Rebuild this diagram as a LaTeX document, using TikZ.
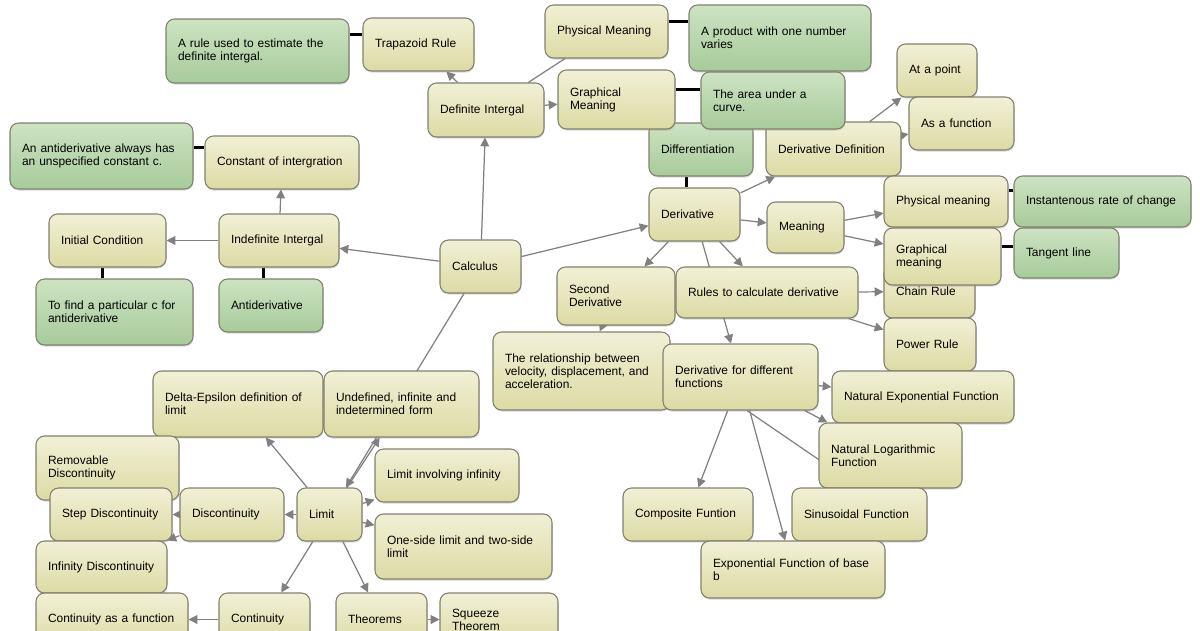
\documentclass[tikz,border=0pt]{standalone}
\usepackage{fontspec}
\setmainfont{Liberation Sans}
\usepackage{tikz}
\usetikzlibrary{arrows.meta, shadows}

\definecolor{topichi}{HTML}{F1F0D6}
\definecolor{topiclo}{HTML}{DCDBA4}
\definecolor{notehi}{HTML}{CDE3C2}
\definecolor{notelo}{HTML}{A7CB9A}
\definecolor{boxline}{HTML}{80806E}
\definecolor{connline}{HTML}{808080}

\pgfdeclarelayer{edges}
\pgfsetlayers{edges,main}

\newcommand{\boxfont}{\fontsize{6.8}{7.4}\selectfont\hyphenpenalty=10000\exhyphenpenalty=10000}

\tikzset{
    boxsize/.code 2 args={\pgfmathsetlengthmacro\boxtw{(#1-24)*0.02cm}%
        \tikzset{text width=\boxtw, minimum height=#2*0.02cm}},
    topic/.style={draw=boxline, line width=0.6pt, rounded corners=0.17cm,
        top color=topichi, bottom color=topiclo, inner xsep=0.24cm, inner ysep=0pt,
        drop shadow={shadow xshift=0.3pt, shadow yshift=-0.9pt, opacity=0.3},
        align=left, font=\boxfont, text=black},
    note/.style={topic, top color=notehi, bottom color=notelo},
    conn/.style={draw=connline, line width=0.7pt, -{Triangle[length=5pt,width=5pt]}},
    plainconn/.style={draw=connline, line width=0.7pt},
    notelink/.style={draw=black, line width=1.7pt},
}

\begin{document}
\begin{tikzpicture}[x=0.02cm, y=-0.02cm]
                \useasboundingbox (0,0) rectangle (1200,630);
                \clip (0,0) rectangle (1200,630);

                \node[note, boxsize={183}{64}] (rulenote) at (257.5,51) {A rule used to estimate the\\definite intergal.};
                \node[topic, boxsize={111}{53}] (trap) at (418.5,44.5) {Trapazoid Rule};
                \node[topic, boxsize={123}{53}] (physm) at (606.5,31.5) {Physical Meaning};
                \node[note, boxsize={182}{66}] (product) at (780,38) {A product with one number\\varies};
                \node[topic, boxsize={116}{54}] (defint) at (486,110) {Definite Intergal};
                \node[note, boxsize={104}{53}] (diffn) at (701,149.5) {Differentiation};
                \node[topic, boxsize={135}{54}] (derdef) at (833.5,149) {Derivative Definition};
                \node[topic, boxsize={117}{59}] (graphm) at (616.5,99.5) {Graphical\\Meaning};
                \node[note, boxsize={144}{57}] (area) at (773,100.5) {The area under a\\curve.};
                \node[topic, boxsize={80}{53}] (atpt) at (937,70.5) {At a point};
                \node[topic, boxsize={105}{53}] (asfn) at (961.5,123.5) {As a function};

                \node[note, boxsize={183}{66}] (antinote) at (101.5,156) {An antiderivative always has\\an unspecified constant c.};
                \node[topic, boxsize={154}{53}] (const) at (282,162.5) {Constant of intergration};
                \node[topic, boxsize={117}{53}] (initc) at (107.5,240.5) {Initial Condition};
                \node[topic, boxsize={120}{53}] (indef) at (279,240.5) {Indefinite Intergal};
                \node[note, boxsize={157}{66}] (tofind) at (114.5,312) {To find a particular c for\\antiderivative};
                \node[note, boxsize={104}{53}] (antider) at (271,305.5) {Antiderivative};
                \node[topic, boxsize={81}{53}] (calc) at (480.5,266.5) {Calculus};

                \node[topic, boxsize={91}{53}] (deriv) at (694.5,214.5) {Derivative};
                \node[topic, boxsize={77}{51}] (meaning) at (805.5,227.5) {Meaning};
                \node[topic, boxsize={124}{51}] (physmean) at (946,201.5) {Physical meaning};
                \node[note, boxsize={177}{51}] (instant) at (1102.5,201.5) {Instantenous rate of change};
                \node[topic, boxsize={91}{53}] (chain) at (929.5,291.5) {Chain Rule};
                \node[topic, boxsize={117}{57}] (graphmean) at (942.5,256.5) {Graphical\\meaning};
                \node[note, boxsize={105}{50}] (tangent) at (1066.5,253) {Tangent line};
                \node[topic, boxsize={92}{53}] (power) at (930,344.5) {Power Rule};
                \node[topic, boxsize={118}{58}] (second) at (616,296) {Second\\Derivative};
                \node[topic, boxsize={182}{51}] (rules) at (767,292.5) {Rules to calculate derivative};
                \node[topic, boxsize={177}{78}] (relation) at (581.5,371) {The relationship between\\velocity, displacement, and\\acceleration.};
                \node[topic, boxsize={155}{66}] (dfd) at (740.5,377) {Derivative for different\\functions};
                \node[topic, boxsize={182}{52}] (natexp) at (923,397) {Natural Exponential Function};
                \node[topic, boxsize={143}{65}] (natlog) at (890.5,455.5) {Natural Logarithmic\\Function};
                \node[topic, boxsize={130}{53}] (composite) at (688,514.5) {Composite Funtion};
                \node[topic, boxsize={135}{53}] (sinus) at (859.5,514.5) {Sinusoidal Function};
                \node[topic, boxsize={184}{57}] (expb) at (793,569.5) {Exponential Function of base\\b};

                \node[topic, boxsize={170}{66}] (delta) at (238,404) {Delta-Epsilon definition of\\limit};
                \node[topic, boxsize={155}{66}] (undef) at (401.5,404) {Undefined, infinite and\\indetermined form};
                \node[topic, boxsize={143}{64}] (removable) at (107.5,468) {Removable\\Discontinuity};
                \node[topic, boxsize={144}{53}] (liminf) at (447,475.5) {Limit involving infinity};
                \node[topic, boxsize={122}{53}] (step) at (111,514.5) {Step Discontinuity};
                \node[topic, boxsize={104}{53}] (discont) at (232,514.5) {Discontinuity};
                \node[topic, boxsize={65}{53}] (limit) at (329.5,514.5) {Limit};
                \node[topic, boxsize={177}{65}] (oneside) at (463.5,546.5) {One-side limit and two-side\\limit};
                \node[topic, boxsize={131}{52}] (infdisc) at (101.5,567) {Infinity Discontinuity};
                \node[topic, boxsize={152}{53}] (contfn) at (112,619.5) {Continuity as a function};
                \node[topic, boxsize={91}{53}] (cont) at (264.5,619.5) {Continuity};
                \node[topic, boxsize={91}{53}] (theorems) at (381.5,619.5) {Theorems};
                \node[topic, boxsize={118}{53}] (squeeze) at (499,619.5) {Squeeze\\Theorem};

                \begin{pgfonlayer}{edges}
                \draw[conn] (calc) -- (defint);
                \draw[conn] (calc) -- (indef);
                \draw[conn] (calc) -- (deriv);
                \draw[conn] (calc) -- (limit);
                \draw[conn] (defint) -- (trap);
                \draw[plainconn] (defint) -- (physm);
                \draw[conn] (defint) -- (graphm);
                \draw[conn] (indef) -- (const);
                \draw[conn] (indef) -- (initc);
                \draw[conn] (deriv) -- (derdef);
                \draw[conn] (derdef) -- (atpt);
                \draw[conn] (derdef) -- (asfn);
                \draw[conn] (deriv) -- (meaning);
                \draw[conn] (meaning) -- (physmean);
                \draw[conn] (meaning) -- (graphmean);
                \draw[conn] (deriv) -- (second);
                \draw[conn] (deriv) -- (rules);
                \draw[conn] (deriv) -- (dfd);
                \draw[conn] (second) -- (relation);
                \draw[conn] (rules) -- (chain);
                \draw[conn] (rules) -- (power);
                \draw[conn] (dfd) -- (natexp);
                \draw[conn] (dfd) -- (natlog);
                \draw[conn] (dfd) -- (composite);
                \draw[conn] (dfd) -- (expb);
                \draw[conn] (dfd.281) -- (sinus.north);
                \draw[conn] (limit) -- (delta);
                \draw[conn] (limit) -- (undef);
                \draw[conn] (limit) -- (liminf);
                \draw[conn] (limit) -- (oneside);
                \draw[conn] (limit) -- (discont);
                \draw[conn] (limit) -- (cont);
                \draw[conn] (limit) -- (theorems);
                \draw[conn] (discont) -- (removable);
                \draw[conn] (discont) -- (step);
                \draw[conn] (discont) -- (infdisc);
                \draw[conn] (cont) -- (contfn);
                \draw[conn] (theorems) -- (squeeze);

                \draw[notelink] (trap.170) -- (trap.170 -| rulenote.east);
                \draw[notelink] (physm.9) -- (physm.9 -| product.west);
                \draw[notelink] (graphm.10) -- (graphm.10 -| area.west);
                \draw[notelink] (physmean.10) -- (physmean.10 -| instant.west);
                \draw[notelink] (graphmean.10) -- (graphmean.10 -| tangent.west);
                \draw[notelink] (const.169) -- (const.169 -| antinote.east);
                \draw[notelink] (deriv.106) -- (deriv.106 |- diffn.south);
                \draw[notelink] (indef.240) -- (indef.240 |- antider.north);
                \draw[notelink] (initc.260) -- (initc.260 |- tofind.north);
                \end{pgfonlayer}
\end{tikzpicture}
\end{document}
